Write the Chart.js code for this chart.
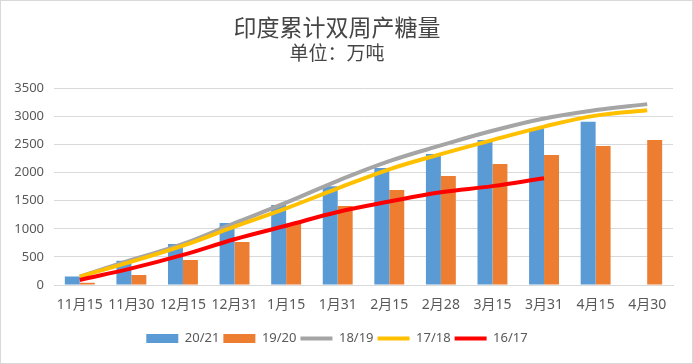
<!DOCTYPE html>
<html>
<head>
<meta charset="utf-8">
<script src="https://cdn.jsdelivr.net/npm/chart.js@4.4.0/dist/chart.umd.min.js"></script>
<style>
  body { margin: 0; background: #fff; }
  .box { width: 693px; height: 364px; box-sizing: border-box; border: 1px solid #d9d9d9; }
</style>
</head>
<body>
<div class="box"><canvas id="myChart" width="691" height="362"></canvas></div>
<script>
// categories and values (万吨)
const labels = ['11月15', '11月30', '12月15', '12月31', '1月15', '1月31', '2月15', '2月28', '3月15', '3月31', '4月15', '4月30'];
const s2021 = [150, 430, 730, 1105, 1425, 1760, 2085, 2330, 2580, 2790, 2905, null];
const s1920 = [40, 180, 445, 765, 1100, 1405, 1690, 1940, 2155, 2315, 2475, 2580];
const s1819 = [150, 445, 730, 1100, 1465, 1855, 2205, 2485, 2745, 2965, 3115, 3220];
const s1718 = [150, 415, 700, 1040, 1365, 1720, 2060, 2330, 2580, 2820, 3015, 3110];
const s1617 = [90, 295, 535, 815, 1055, 1300, 1485, 1650, 1760, 1900, null, null];
const yTicks = [0, 500, 1000, 1500, 2000, 2500, 3000, 3500];

const font = "'Noto Sans', 'Noto Sans CJK SC', sans-serif";
Chart.defaults.font.family = font;
Chart.defaults.color = '#595959';

// lines
function line(label, values, colour, order) {
  return {
    type: 'line', label: label, data: values,
    borderColor: colour, backgroundColor: colour,
    borderWidth: 4, pointRadius: 0, tension: 0.4,
    spanGaps: false, order: order
  };
}

const data = {
  labels: labels,
  datasets: [
    { label: '20/21', data: s2021, backgroundColor: '#5B9BD5', order: 5, barPercentage: 1, categoryPercentage: 0.58 },
    { label: '19/20', data: s1920, backgroundColor: '#ED7D31', order: 5, barPercentage: 1, categoryPercentage: 0.58 },
    line('18/19', s1819, '#A5A5A5', 3),
    line('17/18', s1718, '#FFC000', 2),
    line('16/17', s1617, '#FF0000', 1)
  ]
};

const config = {
  type: 'bar',
  data: data,
  options: {
    responsive: false,
    animation: false,
    layout: { padding: { left: 0, right: 19, top: 0, bottom: 8 } },
    plugins: {
      title: {
        display: true, text: '印度累计双周产糖量', color: '#454545',
        font: { family: "'Noto Sans CJK SC', sans-serif", size: 23, weight: 'normal' },
        padding: { top: 12, bottom: 1 }
      },
      subtitle: {
        display: true, text: '单位：万吨', color: '#454545',
        font: { family: "'Noto Sans CJK SC', sans-serif", size: 19, weight: 'normal' },
        padding: { top: 0, bottom: 24 }
      },
      legend: {
        position: 'bottom',
        labels: {
          usePointStyle: true, pointStyleWidth: 32, boxHeight: 9,
          padding: 4, color: '#595959', font: { size: 13 },
          generateLabels: function (chart) {
            const items = Chart.defaults.plugins.legend.labels.generateLabels(chart);
            items.sort((a, b) => a.datasetIndex - b.datasetIndex);
            items.forEach(it => {
              const ds = chart.data.datasets[it.datasetIndex];
              it.pointStyle = ds.type === 'line' ? 'line' : 'rect';
              if (ds.type !== 'line') it.lineWidth = 0;
            });
            return items;
          }
        }
      },
      tooltip: { enabled: false }
    },
    scales: {
      x: {
        grid: { display: false, drawTicks: false },
        border: { color: '#d9d9d9' },
        afterFit: s => { s.height = 43; },
        ticks: { color: '#595959', font: { size: 14 }, maxRotation: 0, padding: 12 }
      },
      y: {
        min: 0, max: 3500,
        afterBuildTicks: s => { s.ticks = yTicks.map(v => ({ value: v })); },
        afterFit: s => { s.width = 53; },
        grid: { color: '#d9d9d9', drawTicks: false },
        border: { display: false },
        ticks: { color: '#595959', font: { size: 13 }, padding: 10, callback: v => String(v) }
      }
    }
  }
};

const myChart = new Chart(document.getElementById('myChart'), config);
</script>
</body>
</html>
